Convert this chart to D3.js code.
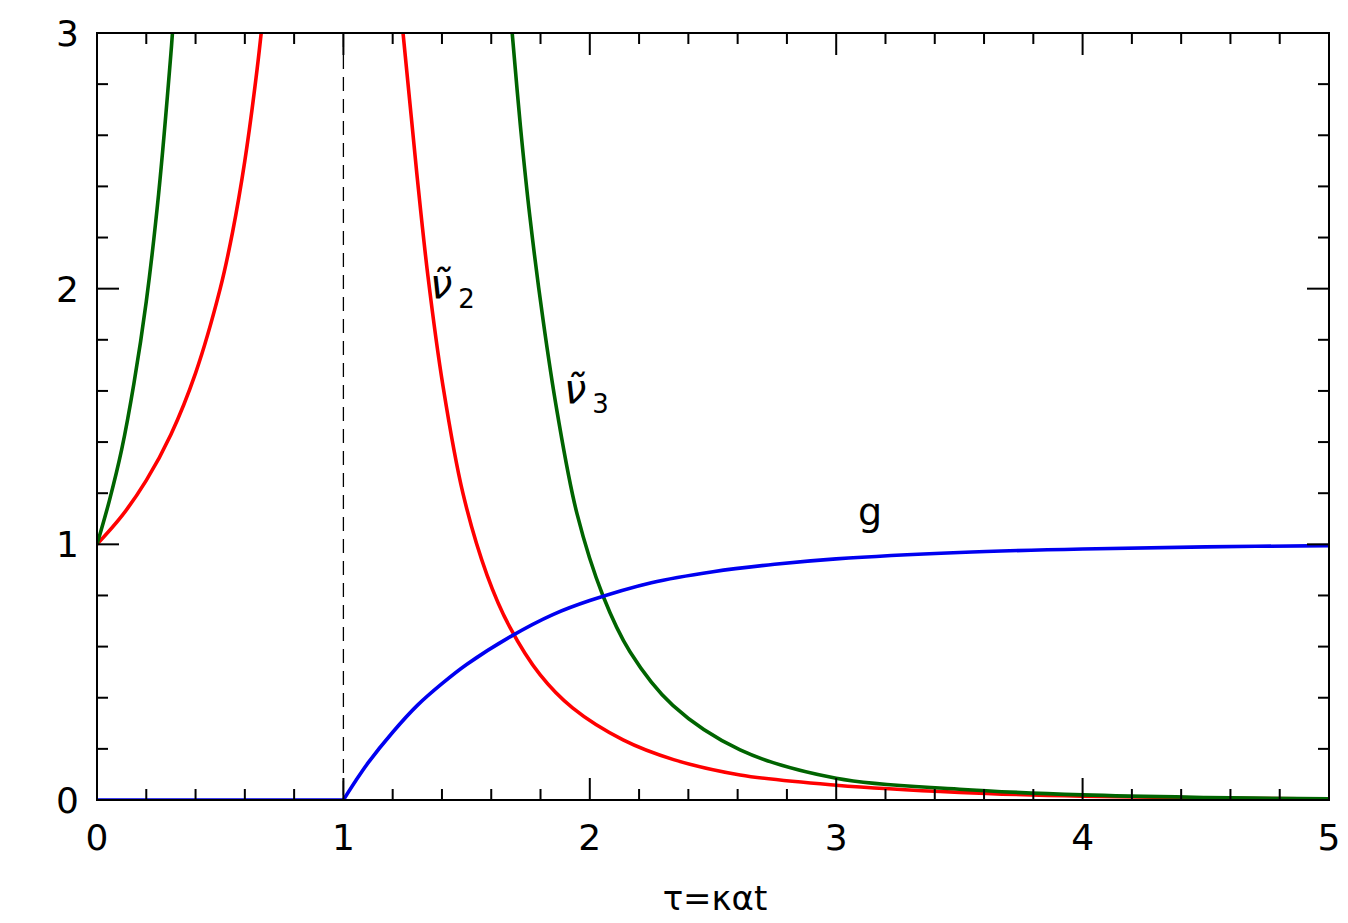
<!DOCTYPE html>
<html><head><meta charset="utf-8">
<script src="https://cdn.jsdelivr.net/npm/d3@7"></script>
<style>body{margin:0;background:#fff}text{font-family:"DejaVu Sans",sans-serif}</style>
</head><body><svg id="c" width="1348" height="923"></svg>
<script>
const xTicks=[0,1,2,3,4,5], yTicks=[0,1,2,3];
const redLeft=[[0,1],[0.1,1.11],[0.2,1.25],[0.3,1.43],[0.4,1.67],[0.5,2],[0.55,2.22],[0.6,2.5],[0.65,2.86],[0.675,3.08]];
const greenLeft=[[0,1],[0.05,1.17],[0.1,1.37],[0.15,1.63],[0.2,1.95],[0.25,2.37],[0.3,2.92],[0.31,3.05]];
const redRight=[[1.235,3.05],[1.242,3.0],[1.298,2.45],[1.343,2.05],[1.404,1.62],[1.485,1.2],[1.583,0.88],[1.676,0.675],[1.798,0.49],[1.93,0.36],[2.135,0.235],[2.34,0.158],[2.61,0.098],[3,0.058],[3.5,0.03],[4,0.015],[4.5,0.008],[5,0.004]];
const greenRight=[[1.68,3.05],[1.685,3.0],[1.718,2.64],[1.757,2.28],[1.81,1.88],[1.867,1.52],[1.948,1.12],[2.053,0.8],[2.163,0.58],[2.337,0.37],[2.61,0.196],[3,0.085],[3.5,0.042],[4,0.02],[4.5,0.01],[5,0.005]];
const gCurve=[[0,0],[1,0],[1.05,0.075],[1.1,0.145],[1.2,0.265],[1.3,0.37],[1.4,0.455],[1.5,0.53],[1.68,0.64],[1.85,0.725],[2,0.78],[2.25,0.85],[2.5,0.893],[2.75,0.922],[3,0.943],[3.5,0.968],[4,0.982],[4.5,0.99],[5,0.995]];
const svg=d3.select("#c");
const L=97,R=1329,T=33,B=800;
const x=d3.scaleLinear().domain([0,5]).range([L,R]);
const y=d3.scaleLinear().domain([0,3]).range([B,T]);
svg.append("defs").append("clipPath").attr("id","cp").append("rect").attr("x",L).attr("y",T).attr("width",R-L).attr("height",B-T);
const line=d3.line().x(d=>x(d[0])).y(d=>y(d[1])).curve(d3.curveCatmullRom.alpha(0.5));
const g=svg.append("g").attr("clip-path","url(#cp)");
g.append("line").attr("x1",x(1)).attr("x2",x(1)).attr("y1",T).attr("y2",B).attr("stroke","#000").attr("stroke-width",1.3).attr("stroke-dasharray","14,8");
[[redLeft,"#f00"],[redRight,"#f00"],[greenLeft,"#006400"],[greenRight,"#006400"]].forEach(([d,c])=>
 g.append("path").datum(d).attr("d",line).attr("fill","none").attr("stroke",c).attr("stroke-width",3.6));
g.append("path").datum(gCurve).attr("d",d3.line().x(d=>x(d[0])).y(d=>y(d[1])).curve(d3.curveLinear)(gCurve.slice(0,2))+ line(gCurve.slice(1))).attr("fill","none").attr("stroke","#0000f0").attr("stroke-width",3.6);
const ax=svg.append("g");
const minorX=d3.range(0,5.001,0.2), minorY=d3.range(0,3.001,0.2);
const isMaj=v=>Math.abs(v-Math.round(v))<1e-6;
minorX.forEach(v=>{const l=isMaj(v)?22:11;
 ax.append("line").attr("x1",x(v)).attr("x2",x(v)).attr("y1",B).attr("y2",B-l).attr("stroke","#000").attr("stroke-width",2);
 ax.append("line").attr("x1",x(v)).attr("x2",x(v)).attr("y1",T).attr("y2",T+l).attr("stroke","#000").attr("stroke-width",2);});
minorY.forEach(v=>{const l=isMaj(v)?22:11;
 ax.append("line").attr("y1",y(v)).attr("y2",y(v)).attr("x1",L).attr("x2",L+l).attr("stroke","#000").attr("stroke-width",2);
 ax.append("line").attr("y1",y(v)).attr("y2",y(v)).attr("x1",R).attr("x2",R-l).attr("stroke","#000").attr("stroke-width",2);});
ax.append("rect").attr("x",L).attr("y",T).attr("width",R-L).attr("height",B-T).attr("fill","none").attr("stroke","#000").attr("stroke-width",2);
xTicks.forEach(v=>ax.append("text").attr("x",x(v)).attr("y",B+50).attr("text-anchor","middle").attr("font-size",36).text(v));
yTicks.forEach(v=>ax.append("text").attr("x",L-18).attr("y",y(v)+13).attr("text-anchor","end").attr("font-size",36).text(v));
const lab=(tx,ty,main,sub)=>{const t=svg.append("text").attr("x",tx).attr("y",ty).attr("font-size",40).attr("font-style","italic");
 t.append("tspan").text(main); if(sub) t.append("tspan").attr("font-size",26).attr("font-style","normal").attr("dx",6).attr("dy",10).text(sub);};
lab(430,298,"ν̃","2");
lab(564,403,"ν̃","3");
svg.append("text").attr("x",858).attr("y",525).attr("font-size",38).text("g");
svg.append("text").attr("x",715).attr("y",910).attr("text-anchor","middle").attr("font-size",34).text("τ=καt");
</script></body></html>
